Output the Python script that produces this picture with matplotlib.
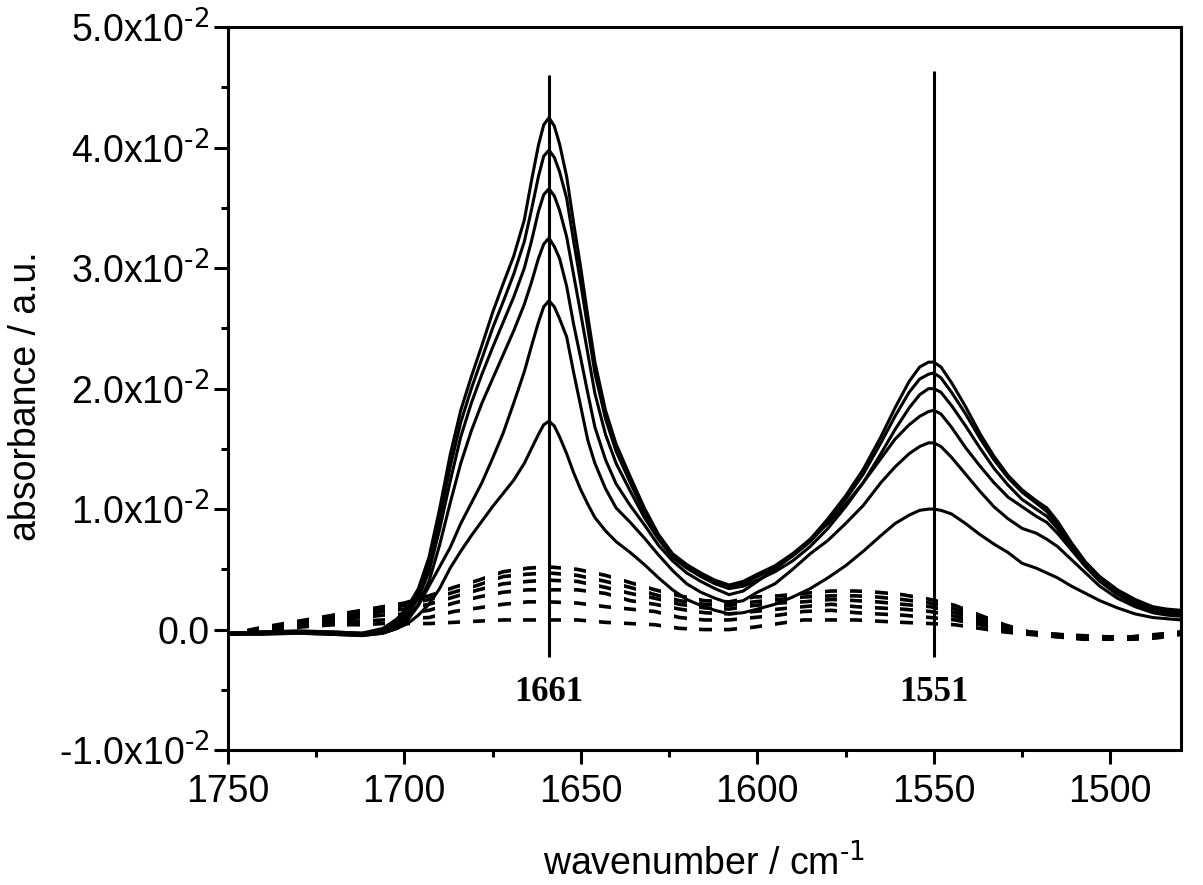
import numpy as np
import matplotlib
matplotlib.use('Agg')
import matplotlib.pyplot as plt
from matplotlib.path import Path
from matplotlib.ticker import MultipleLocator, FixedLocator, FixedFormatter

plt.rcParams['font.family'] = ['Liberation Sans', 'DejaVu Sans']
plt.rcParams['mathtext.default'] = 'regular'

# ---- data ----
wn = [1750, 1740, 1730, 1720, 1712, 1706, 1702, 1699, 1696,
      1693, 1690, 1687, 1684, 1681, 1678, 1675, 1672, 1669, 1666,
      1664, 1662, 1660.5, 1659, 1657.5, 1656, 1654, 1652, 1650, 1648,
      1646, 1643, 1640, 1636, 1632, 1628, 1624, 1620, 1616, 1612,
      1608, 1604, 1600, 1595, 1590, 1585, 1580, 1575, 1570, 1565,
      1561, 1557, 1554, 1551.5, 1550, 1548, 1545, 1541, 1537, 1533,
      1529, 1525, 1521, 1518, 1515, 1511, 1507, 1503, 1498, 1493,
      1488, 1484, 1480]

solid_1 = [-0.0003, -0.0002, -0.0001, -0.0002, -0.0003, 0.0001, 0.0009, 0.0019, 0.0034,
           0.0060, 0.0100, 0.0145, 0.0182, 0.0210, 0.0236, 0.0263, 0.0287, 0.0310, 0.0340,
           0.0372, 0.0402, 0.0419, 0.0425, 0.0418, 0.0403, 0.0376, 0.0337, 0.0300, 0.0260,
           0.0222, 0.0182, 0.0154, 0.0127, 0.0101, 0.0079, 0.0063, 0.0054, 0.0047, 0.0041,
           0.0037, 0.0040, 0.0046, 0.0053, 0.0063, 0.0075, 0.0092, 0.0111, 0.0133, 0.0160,
           0.0184, 0.0206, 0.0218, 0.0222, 0.0222, 0.0218, 0.0205, 0.0185, 0.0163, 0.0144,
           0.0128, 0.0116, 0.0107, 0.0101, 0.0090, 0.0072, 0.0056, 0.0044, 0.0033, 0.0025,
           0.0019, 0.0017, 0.0016]

solid_2 = [-0.0003, -0.0002, -0.0002, -0.0002, -0.0003, 0.0000, 0.0007, 0.0016, 0.0030,
           0.0054, 0.0092, 0.0135, 0.0172, 0.0200, 0.0225, 0.0250, 0.0272, 0.0295, 0.0322,
           0.0348, 0.0376, 0.0393, 0.0398, 0.0392, 0.0380, 0.0358, 0.0322, 0.0287, 0.0250,
           0.0213, 0.0175, 0.0148, 0.0122, 0.0097, 0.0077, 0.0061, 0.0052, 0.0045, 0.0039,
           0.0035, 0.0038, 0.0044, 0.0051, 0.0061, 0.0073, 0.0089, 0.0108, 0.0129, 0.0155,
           0.0177, 0.0197, 0.0208, 0.0212, 0.0213, 0.0209, 0.0197, 0.0179, 0.0159, 0.0141,
           0.0126, 0.0114, 0.0105, 0.0098, 0.0087, 0.0070, 0.0055, 0.0043, 0.0032, 0.0024,
           0.0018, 0.0016, 0.0015]

solid_3 = [-0.0003, -0.0002, -0.0002, -0.0003, -0.0004, -0.0001, 0.0005, 0.0013, 0.0026,
           0.0048, 0.0083, 0.0123, 0.0160, 0.0188, 0.0212, 0.0234, 0.0255, 0.0276, 0.0300,
           0.0322, 0.0347, 0.0361, 0.0366, 0.0360, 0.0348, 0.0326, 0.0294, 0.0262, 0.0229,
           0.0196, 0.0162, 0.0138, 0.0115, 0.0093, 0.0075, 0.0060, 0.0051, 0.0044, 0.0038,
           0.0034, 0.0036, 0.0041, 0.0048, 0.0057, 0.0069, 0.0084, 0.0102, 0.0122, 0.0146,
           0.0166, 0.0184, 0.0195, 0.0200, 0.0200, 0.0197, 0.0186, 0.0169, 0.0151, 0.0134,
           0.0120, 0.0108, 0.0100, 0.0094, 0.0084, 0.0068, 0.0053, 0.0041, 0.0031, 0.0023,
           0.0017, 0.0015, 0.0014]

solid_4 = [-0.0003, -0.0003, -0.0002, -0.0003, -0.0004, -0.0002, 0.0003, 0.0010, 0.0021,
           0.0040, 0.0070, 0.0105, 0.0138, 0.0165, 0.0188, 0.0208, 0.0228, 0.0248, 0.0270,
           0.0288, 0.0308, 0.0320, 0.0325, 0.0318, 0.0308, 0.0285, 0.0253, 0.0225, 0.0196,
           0.0168, 0.0141, 0.0121, 0.0103, 0.0087, 0.0070, 0.0057, 0.0047, 0.0040, 0.0034,
           0.0029, 0.0032, 0.0040, 0.0050, 0.0062, 0.0075, 0.0088, 0.0104, 0.0122, 0.0142,
           0.0158, 0.0170, 0.0177, 0.0181, 0.0182, 0.0179, 0.0168, 0.0151, 0.0136, 0.0122,
           0.0110, 0.0102, 0.0094, 0.0089, 0.0080, 0.0066, 0.0052, 0.0040, 0.0029, 0.0021,
           0.0016, 0.0014, 0.0013]

solid_5 = [-0.0004, -0.0003, -0.0003, -0.0004, -0.0005, -0.0003, 0.0001, 0.0008, 0.0020,
           0.0036, 0.0052, 0.0068, 0.0088, 0.0105, 0.0122, 0.0142, 0.0163, 0.0188, 0.0214,
           0.0235, 0.0255, 0.0268, 0.0273, 0.0268, 0.0258, 0.0243, 0.0213, 0.0185, 0.0157,
           0.0138, 0.0117, 0.0101, 0.0089, 0.0076, 0.0062, 0.0049, 0.0038, 0.0031, 0.0026,
           0.0022, 0.0024, 0.0031, 0.0038, 0.0050, 0.0063, 0.0074, 0.0088, 0.0103, 0.0122,
           0.0135, 0.0146, 0.0152, 0.0155, 0.0155, 0.0152, 0.0143, 0.0129, 0.0115, 0.0102,
           0.0092, 0.0084, 0.0080, 0.0075, 0.0069, 0.0058, 0.0047, 0.0036, 0.0026, 0.0019,
           0.0014, 0.0012, 0.0011]

solid_6 = [-0.0004, -0.0004, -0.0003, -0.0004, -0.0005, -0.0003, 0.0001, 0.0005, 0.0012,
           0.0021, 0.0034, 0.0051, 0.0065, 0.0078, 0.0090, 0.0102, 0.0113, 0.0124, 0.0138,
           0.0150, 0.0162, 0.0170, 0.0173, 0.0169, 0.0160, 0.0146, 0.0130, 0.0116, 0.0104,
           0.0093, 0.0082, 0.0073, 0.0064, 0.0054, 0.0043, 0.0033, 0.0025, 0.0020, 0.0016,
           0.0013, 0.0014, 0.0017, 0.0021, 0.0027, 0.0034, 0.0043, 0.0053, 0.0065, 0.0078,
           0.0088, 0.0095, 0.0099, 0.0100, 0.0100, 0.0099, 0.0096, 0.0088, 0.0079, 0.0071,
           0.0064, 0.0055, 0.0051, 0.0047, 0.0043, 0.0036, 0.0030, 0.0024, 0.0018, 0.0013,
           0.0010, 0.0009, 0.0008]

wn_dashed = [1750, 1740, 1730, 1720, 1712, 1706, 1700, 1693, 1686, 1679,
             1672, 1665, 1659, 1651, 1643, 1636, 1629, 1622, 1615, 1608,
             1601, 1594, 1587, 1579, 1572, 1566, 1559, 1551, 1544, 1537,
             1530, 1523, 1515, 1508, 1501, 1494, 1487, 1480]

dashed_1 = [-0.0004, 0.0002, 0.0007, 0.0012, 0.0016, 0.0019, 0.0022, 0.0028, 0.0035, 0.0041,
            0.0048, 0.0051, 0.0052, 0.0050, 0.0045, 0.0039, 0.0033, 0.0028, 0.0024, 0.0023,
            0.0027, 0.0028, 0.0030, 0.0032, 0.0032, 0.0031, 0.0029, 0.0025, 0.0020, 0.0012,
            0.0004, -0.0002, -0.0004, -0.0005, -0.0006, -0.0006, -0.0004, -0.0002]
dashed_2 = [-0.0004, 0.0001, 0.0006, 0.0011, 0.0014, 0.0017, 0.0020, 0.0025, 0.0031, 0.0037,
            0.0044, 0.0046, 0.0047, 0.0045, 0.0040, 0.0035, 0.0029, 0.0024, 0.0021, 0.0020,
            0.0023, 0.0025, 0.0027, 0.0028, 0.0028, 0.0027, 0.0025, 0.0022, 0.0017, 0.0010,
            0.0003, -0.0002, -0.0004, -0.0006, -0.0006, -0.0006, -0.0005, -0.0002]
dashed_3 = [-0.0004, 0.0001, 0.0005, 0.0009, 0.0012, 0.0015, 0.0017, 0.0021, 0.0027, 0.0033,
            0.0038, 0.0040, 0.0041, 0.0040, 0.0035, 0.0030, 0.0026, 0.0021, 0.0018, 0.0017,
            0.0020, 0.0022, 0.0023, 0.0025, 0.0024, 0.0023, 0.0021, 0.0019, 0.0014, 0.0008,
            0.0002, -0.0003, -0.0005, -0.0006, -0.0007, -0.0007, -0.0005, -0.0003]
dashed_4 = [-0.0004, 0.0000, 0.0004, 0.0008, 0.0010, 0.0012, 0.0013, 0.0016, 0.0022, 0.0027,
            0.0031, 0.0033, 0.0033, 0.0033, 0.0030, 0.0024, 0.0021, 0.0017, 0.0014, 0.0013,
            0.0015, 0.0017, 0.0019, 0.0021, 0.0019, 0.0018, 0.0017, 0.0015, 0.0011, 0.0006,
            0.0001, -0.0003, -0.0005, -0.0007, -0.0007, -0.0007, -0.0006, -0.0003]
dashed_5 = [-0.0004, 0.0000, 0.0003, 0.0006, 0.0007, 0.0008, 0.0009, 0.0010, 0.0015, 0.0018,
            0.0021, 0.0023, 0.0023, 0.0022, 0.0019, 0.0017, 0.0015, 0.0010, 0.0008, 0.0008,
            0.0010, 0.0012, 0.0015, 0.0016, 0.0014, 0.0013, 0.0012, 0.0010, 0.0008, 0.0004,
            0.0000, -0.0003, -0.0006, -0.0007, -0.0008, -0.0008, -0.0006, -0.0003]
dashed_6 = [-0.0004, -0.0001, 0.0002, 0.0004, 0.0004, 0.0005, 0.0005, 0.0005, 0.0006, 0.0007,
            0.0008, 0.0008, 0.0008, 0.0008, 0.0006, 0.0005, 0.0004, 0.0001, 0.0000, 0.0000,
            0.0002, 0.0005, 0.0008, 0.0008, 0.0008, 0.0007, 0.0006, 0.0005, 0.0004, 0.0001,
            -0.0002, -0.0004, -0.0006, -0.0008, -0.0008, -0.0008, -0.0007, -0.0004]

peak_wn = [1659, 1550]
peak_top = [0.0460, 0.0464]
peak_labels = ['1661', '1551']

x_ticks = [1750, 1700, 1650, 1600, 1550, 1500]
x_tick_labels = ['1750', '1700', '1650', '1600', '1550', '1500']
y_ticks = [-0.01, 0.0, 0.01, 0.02, 0.03, 0.04, 0.05]
y_tick_labels = [r'-1.0x10$^{\text{-2}}$', '0.0', r'1.0x10$^{\text{-2}}$', r'2.0x10$^{\text{-2}}$',
                 r'3.0x10$^{\text{-2}}$', r'4.0x10$^{\text{-2}}$', r'5.0x10$^{\text{-2}}$']

# ---- figure ----
FS = 27
fig = plt.figure(figsize=(12.03, 8.85), dpi=100)
ax = fig.add_axes([0.1893, 0.1525, 0.7924, 0.8167])

for s in [solid_1, solid_2, solid_3, solid_4, solid_5, solid_6]:
    ax.plot(wn, s, color='black', lw=2.2, solid_joinstyle='round')

# dash pattern: column-aligned dashes (style only), built as clip strips
dash_period, dash_on = 7.12, 3.5
dash_starts = np.arange(1694.75 + 8 * dash_period, 1470, -dash_period)
verts, codes = [], []
for s0 in dash_starts:
    x0, x1 = s0, s0 - dash_on
    verts += [(x0, -1), (x1, -1), (x1, 1), (x0, 1), (x0, -1)]
    codes += [Path.MOVETO, Path.LINETO, Path.LINETO, Path.LINETO, Path.CLOSEPOLY]
dash_clip = Path(verts, codes)

for d in [dashed_1, dashed_2, dashed_3, dashed_4, dashed_5, dashed_6]:
    ln, = ax.plot(wn_dashed, d, color='black', lw=2.6, solid_capstyle='butt')
    ln.set_clip_path(dash_clip, ax.transData)

for xp, top, lab in zip(peak_wn, peak_top, peak_labels):
    ax.vlines(xp, -0.0023, top, color='black', lw=2.2)
    ax.text(xp, -0.0052, lab, ha='center', va='center', fontsize=25,
            fontweight='bold', family=['Liberation Serif', 'DejaVu Serif'])

ax.set_xlim(1750, 1480)
ax.set_ylim(-0.01, 0.05)

ax.xaxis.set_major_locator(FixedLocator(x_ticks))
ax.xaxis.set_major_formatter(FixedFormatter(x_tick_labels))
ax.xaxis.set_minor_locator(MultipleLocator(25))
ax.yaxis.set_major_locator(FixedLocator(y_ticks))
ax.yaxis.set_major_formatter(FixedFormatter(y_tick_labels))
ax.yaxis.set_minor_locator(MultipleLocator(0.005))

ax.tick_params(which='both', direction='out', width=2.2, top=False, right=False,
               labelsize=FS, color='black')
ax.tick_params(which='major', length=10)
ax.tick_params(which='minor', length=5)
ax.tick_params(axis='x', pad=7)
ax.tick_params(axis='y', pad=3)
for sp in ax.spines.values():
    sp.set_linewidth(2.2)

ax.set_xlabel(r'wavenumber / cm$^{\text{-1}}$', fontsize=FS, labelpad=24)
ax.set_ylabel('absorbance / a.u.', fontsize=FS)
ax.yaxis.set_label_coords(-0.193, 0.49)

fig.savefig('out.png', dpi=100)
